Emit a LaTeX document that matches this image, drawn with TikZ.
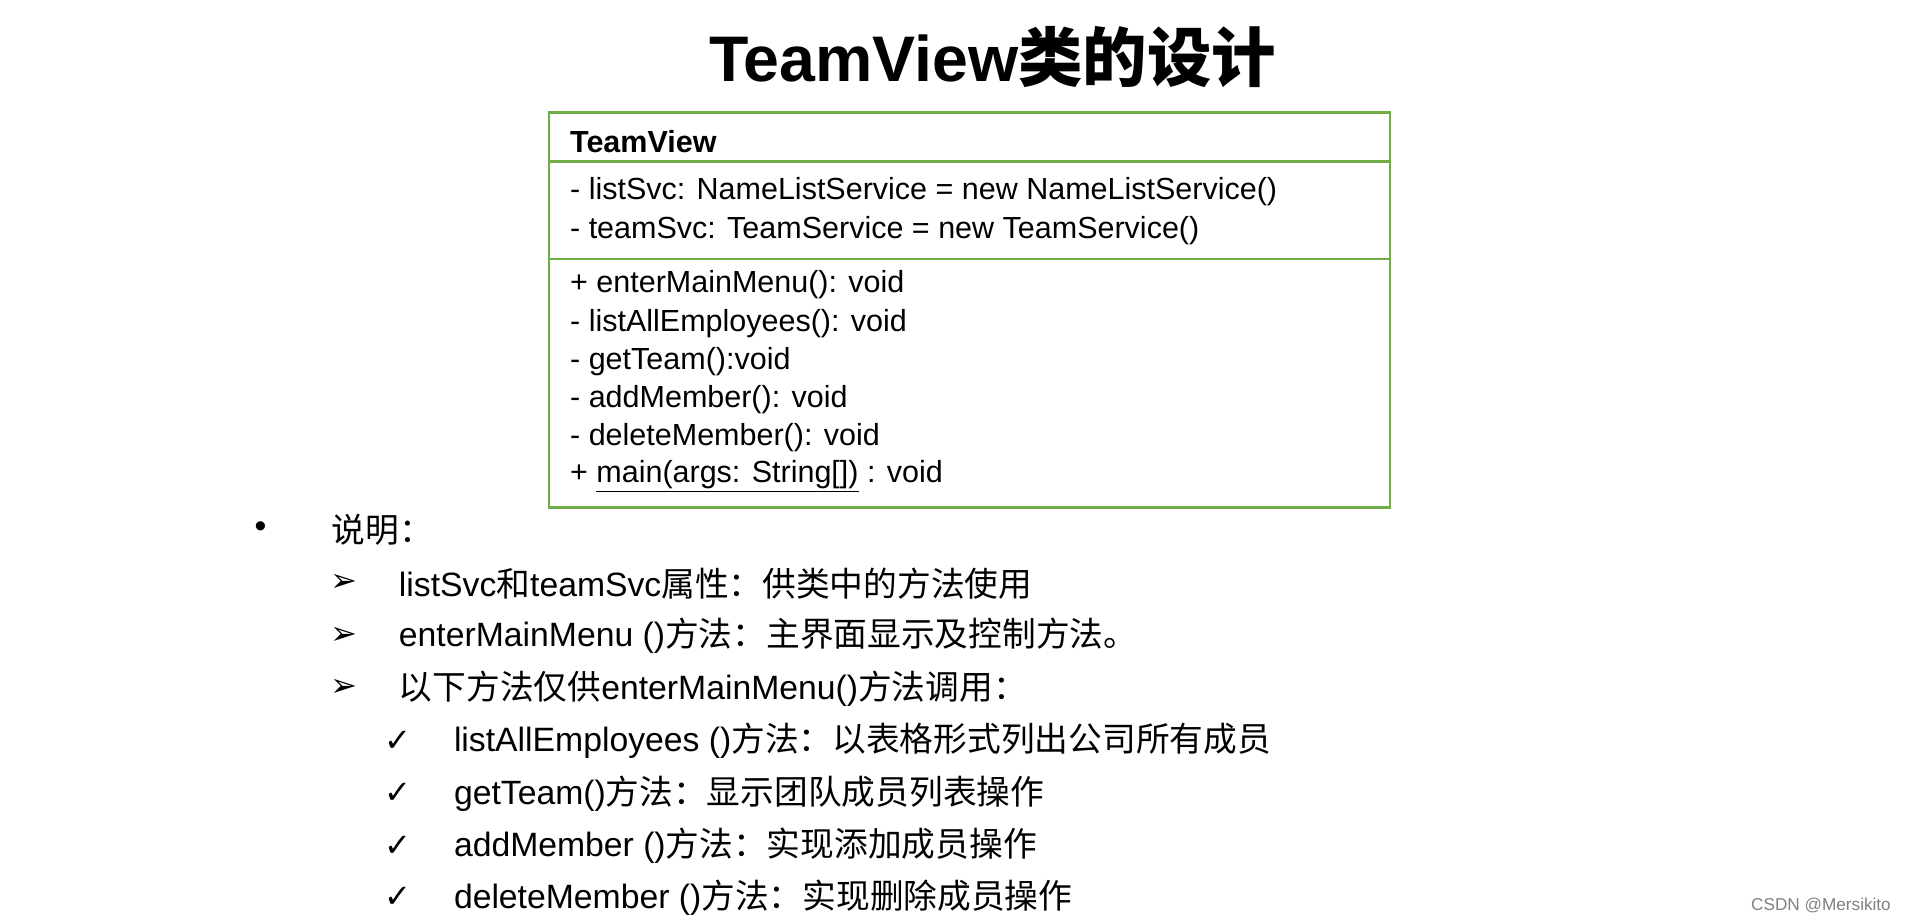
\documentclass[tikz,border=0pt]{standalone}
\usepackage{fontspec}
\setmainfont{Liberation Sans}
\newfontfamily\cjk{Noto Sans CJK SC}
\newfontfamily\sym{DejaVu Sans}
\usetikzlibrary{positioning}
\definecolor{umlgreen}{HTML}{70AD47}
\tikzset{
  member/.style={anchor=west, inner sep=0pt, font=\fontsize{14.2}{17}\selectfont},
  item/.style={anchor=west, inner sep=0pt, font=\fontsize{15.7}{19}\selectfont},
  bulletmark/.style={anchor=west, inner sep=0pt, font=\sym\fontsize{15}{18}\selectfont}
}
\begin{document}
\begin{tikzpicture}[x=0.02cm, y=-0.02cm]
\useasboundingbox (0,0) rectangle (1568,755);
% title
\node (title) [inner sep=0pt, font=\bfseries\fontsize{30}{34}\selectfont] at (812,47) {TeamView{\cjk 类的设计}};
% class box
\draw [umlgreen, line width=1.2pt] (449,92) rectangle (1137,415);
\draw [umlgreen, line width=1.2pt] (449,132) -- (1137,132);
\draw [umlgreen, line width=1.2pt] (449,212) -- (1137,212);
\node (cname) [member, font=\bfseries\fontsize{14.2}{17}\selectfont] at (466,116) {TeamView};
\node (attr1) [member] at (466,157) {- listSvc: NameListService = new NameListService()};
\node (attr2) [member] at (466,189) {- teamSvc: TeamService = new TeamService()};
\node (op1) [member] at (466,233) {+ enterMainMenu(): void};
\node (op2) [member] at (466,265) {- listAllEmployees(): void};
\node (op3) [member] at (466,296) {- getTeam():void};
\node (op4) [member] at (466,327) {- addMember(): void};
\node (op5) [member] at (466,358) {- deleteMember(): void};
\node (op6) [member] at (466,390) {+ \underline{main(args: String[])} : void};
% notes
\node (dot) [item] at (208,433) {\textbullet};
\node (note) [item] at (271,433) {\cjk 说明：};
\foreach \y [count=\i] in {477,520,563} {
  \node (arr\i) [bulletmark] at (270,\y) {➢};
}
\node (n1) [item] at (326,477) {listSvc{\cjk 和}teamSvc{\cjk 属性：供类中的方法使用}};
\node (n2) [item] at (326,520) {enterMainMenu (){\cjk 方法：主界面显示及控制方法。}};
\node (n3) [item] at (326,563) {{\cjk 以下方法仅供}enterMainMenu(){\cjk 方法调用：}};
\foreach \y [count=\i] in {606,649,692,734} {
  \node (chk\i) [bulletmark] at (314,\y) {✓};
}
\node (m1) [item] at (371,606) {listAllEmployees (){\cjk 方法：以表格形式列出公司所有成员}};
\node (m2) [item] at (371,649) {getTeam(){\cjk 方法：显示团队成员列表操作}};
\node (m3) [item] at (371,692) {addMember (){\cjk 方法：实现添加成员操作}};
\node (m4) [item] at (371,734) {deleteMember (){\cjk 方法：实现删除成员操作}};
\node (wm) [anchor=west, inner sep=0pt, gray, font=\fontsize{8}{10}\selectfont] at (1432,741) {CSDN @Mersikito};
\end{tikzpicture}
\end{document}
